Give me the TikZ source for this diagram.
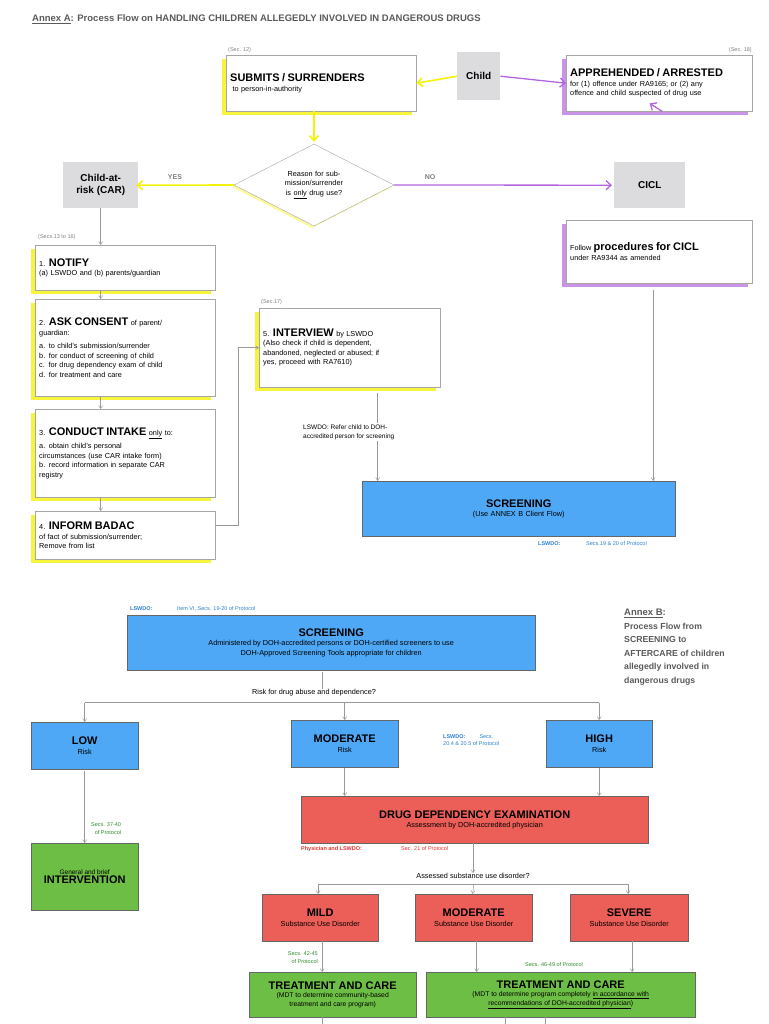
\documentclass[tikz,border=0pt]{standalone}
\usepackage{fontspec}
\setmainfont{Liberation Sans}
\usetikzlibrary{arrows.meta,shapes.geometric,shadows,calc}
\definecolor{gbox}{HTML}{DCDCDE}
\definecolor{ylw}{HTML}{F4F20A}
\definecolor{prp}{HTML}{B266DE}
\definecolor{blu}{HTML}{4FA8F6}
\definecolor{redb}{HTML}{EC5E58}
\definecolor{grn}{HTML}{6DBE45}
\definecolor{ttl}{HTML}{5A5A5A}
\definecolor{tblu}{HTML}{2C7FD2}
\definecolor{tgrn}{HTML}{2F8A2A}
\definecolor{tred}{HTML}{E0332E}
\newcommand\fz[2]{\fontsize{#1}{#2}\selectfont}
\newcommand\hd[1]{{\fz{11}{13}\bfseries #1}}
\begin{document}
\begin{tikzpicture}[x=1pt,y=-1pt,
  box/.style={draw=gray!70, fill=white, anchor=north west, inner sep=4pt,
    align=left, font=\fz{7.3}{9.5}},
  ysh/.style={drop shadow={shadow xshift=-4pt, shadow yshift=-4pt, fill=ylw, opacity=.8}},
  psh/.style={drop shadow={shadow xshift=-4pt, shadow yshift=-4pt, fill=prp, opacity=.7}},
  gray box/.style={fill=gbox, anchor=north west, align=center, font=\fz{10}{12}\bfseries},
  cbox/.style={draw=gray!80!black, anchor=north west, align=center, inner sep=2pt, font=\fz{7.3}{9.5}},
  ga/.style={draw=gray!80, -{Straight Barb[length=3pt,width=4pt]}, line width=.5pt},
  ya/.style={draw=ylw, -{Straight Barb[length=5pt,width=9pt]}, line width=1.6pt},
  pa/.style={draw=prp, -{Straight Barb[length=5pt,width=9pt]}, line width=1.3pt},
  gl/.style={draw=gray!80, line width=.5pt},
  note/.style={font=\fz{5.5}{7}, text=gray, inner sep=0pt},
  lbl/.style={font=\fz{6}{7.5}, inner sep=0pt, align=left}]
\useasboundingbox (0,0) rectangle (768,1024);

% ---------- Annex A ----------
\node[anchor=west, font=\fz{9.5}{11}\bfseries, text=ttl, inner sep=0pt] (title) at (32,19)
  {\underline{Annex A}: Process Flow on HANDLING CHILDREN ALLEGEDLY INVOLVED IN DANGEROUS DRUGS};

\node[box, ysh, text width=182, minimum height=56] (sub) at (226,55)
  {\hd{SUBMITS / SURRENDERS}\\ \ to person-in-authority};
\node[note, anchor=south west] (s12) at (228,53) {(Sec. 12)};
\node[gray box, minimum width=43, minimum height=48] (child) at (457,52) {Child};
\node[box, psh, text width=178, minimum height=56] (app) at (566,55)
  {\hd{APPREHENDED / ARRESTED}\\for (1) offence under RA9165; or (2) any\\offence and child suspected of drug use};
\node[note, anchor=south east] (s18) at (752,53) {(Sec. 18)};

\node[diamond, draw=gray!70, fill=white, aspect=2, minimum width=160, minimum height=82,
  inner sep=0pt, text width=80, align=center, font=\fz{7.3}{9.5},
  drop shadow={shadow xshift=-2pt, shadow yshift=-2pt, fill=ylw, opacity=.4}] (dia) at (314,185)
  {Reason for submission/surrender is \underline{only} drug use?};
\node[gray box, minimum width=75, minimum height=46] (car) at (63,162) {Child-at-\\risk (CAR)};
\node[gray box, minimum width=71, minimum height=46] (cicl) at (614,162) {CICL};
\node[lbl, font=\fz{7}{8}\bfseries, text=gray] (yes) at (175,177) {YES};
\node[lbl, font=\fz{7}{8}\bfseries, text=gray] (no) at (430,177) {NO};

\draw[ya] (child.west) -- (sub.east);
\draw[pa] (child.east) -- (app.west);
\draw[ya] (sub.south -| dia) -- ([yshift=2pt]dia.north);
\draw[ya] (dia.west) -- ([xshift=-2pt]car.east);
\draw[pa] (dia.east) -- ([xshift=-2pt]cicl.west);
\draw[pa] ([xshift=3pt]app.south) -- ([yshift=8pt]app.south -| cicl.north);

\node[box, psh, text width=178, minimum height=63] (proc) at (566,220)
  {Follow \hd{procedures for CICL}\\under RA9344 as amended};

% left column
\node[note, anchor=south west] (s13) at (38,240) {(Secs.13 to 16)};
\node[box, ysh, text width=172, minimum height=45] (notify) at (35,245)
  {1. \hd{NOTIFY}\\(a) LSWDO and (b) parents/guardian};
\node[box, ysh, text width=172, minimum height=97] (ask) at (35,299)
  {2. \hd{ASK CONSENT} of parent/\\guardian:\\[4pt]a. to child's submission/surrender\\b. for conduct of screening of child\\c. for drug dependency exam of child\\d. for treatment and care};
\node[box, ysh, text width=172, minimum height=88] (intake) at (35,409)
  {3. \hd{CONDUCT INTAKE} \underline{only} to:\\[4pt]a. obtain child's personal\\circumstances (use CAR intake form)\\b. record information in separate CAR\\registry};
\node[box, ysh, text width=172, minimum height=48] (inform) at (35,511)
  {4. \hd{INFORM BADAC}\\of fact of submission/surrender;\\Remove from list};
\node[note, anchor=south west] (s17) at (261,305) {(Sec.17)};
\node[box, ysh, text width=173, minimum height=79] (interview) at (259,308)
  {5. \hd{INTERVIEW} by LSWDO\\(Also check if child is dependent,\\abandoned, neglected or abused; if\\yes, proceed with RA7610)};

\draw[ga] (car.south) -- (car.south |- notify.north);
\draw[ga] (notify.south -| car) -- (ask.north -| car);
\draw[ga] (ask.south -| car) -- (intake.north -| car);
\draw[ga] (intake.south -| car) -- (inform.north -| car);
\draw[ga] ([yshift=10pt]inform.east) -- ++(23,0) |- (interview.west);

\node[box, draw=gray!80!black, fill=blu, text width=305, minimum height=55, align=center] (scrA) at (362,481)
  {\hd{SCREENING}\\(Use ANNEX B Client Flow)};
\draw[ga] ([xshift=28pt,yshift=-6pt]interview.south) -- ([xshift=28pt]interview.south |- scrA.north);
\node[lbl, fill=white, anchor=west, inner sep=1pt, font=\fz{6.5}{9}] (refer) at (302,432)
  {LSWDO: Refer child to DOH-\\accredited person for screening};
\draw[ga] ([xshift=-6pt,yshift=-7pt]proc.south) -- ([xshift=-6pt]proc.south |- scrA.north);
\node[lbl, text=tblu, font=\fz{5.5}{7}\bfseries, anchor=west] (lA) at (538,544) {LSWDO:};
\node[lbl, text=tblu, font=\fz{5.5}{7}, anchor=west] (lA2) at (586,544) {Secs.19 \& 20 of Protocol};

% ---------- Annex B ----------
\node[lbl, text=tblu, font=\fz{5.5}{7}\bfseries, anchor=west] (lB) at (130,609) {LSWDO:};
\node[lbl, text=tblu, font=\fz{5.5}{7}, anchor=west] (lB2) at (177,609) {Item VI, Secs. 19-20 of Protocol};
\node[cbox, fill=blu, minimum width=408, minimum height=55] (scrB) at (127,615)
  {\hd{SCREENING}\\Administered by DOH-accredited persons or DOH-certified screeners to use\\DOH-Approved Screening Tools appropriate for children};
\node[anchor=north west, inner sep=0pt, align=left, text=ttl, font=\fz{8.7}{13.5}\bfseries] (annexB) at (624,609)
  {{\fz{9.5}{13.5}\underline{Annex B}:}\\Process Flow from\\SCREENING to\\AFTERCARE of children\\allegedly involved in\\dangerous drugs};

\node[lbl, font=\fz{7.3}{9}] (risk) at (314,693) {Risk for drug abuse and dependence?};
\node[cbox, fill=blu, minimum width=107, minimum height=47] (low) at (31,722) {\hd{LOW}\\Risk};
\node[cbox, fill=blu, minimum width=107, minimum height=47] (mod) at (291,720) {\hd{MODERATE}\\Risk};
\node[cbox, fill=blu, minimum width=106, minimum height=47] (high) at (546,720) {\hd{HIGH}\\Risk};
\draw[gl] (scrB.south -| risk) ++(8,2) coordinate (c1) -- (c1 |- risk.north);
\coordinate (bar) at ($(risk.south)+(0,6)$);
\draw[gl] (bar -| low) -- (bar -| high);
\draw[ga] (bar -| low) -- (low.north);
\draw[ga] (bar -| mod) -- (mod.north);
\draw[ga] (bar -| high) -- (high.north);
\node[lbl, text=tblu, font=\fz{5.5}{7}, anchor=north west, align=left] (l20) at (443,734)
  {\textbf{LSWDO:}\hspace{14pt}Secs.\\20.4 \& 20.5 of Protocol};

\node[cbox, fill=grn, minimum width=107, minimum height=67] (interv) at (31,843)
  {\fz{6.5}{8}General and brief\\\hd{INTERVENTION}};
\draw[ga] ([yshift=-2pt]low.south) -- (interv.north);
\node[lbl, text=tgrn, font=\fz{5.5}{8}, align=right, anchor=north west] (s37) at (91,822) {Secs. 37-40\\of Protocol};

\node[cbox, fill=redb, minimum width=347, minimum height=47] (dde) at (301,796)
  {\hd{DRUG DEPENDENCY EXAMINATION}\\Assessment by DOH-accredited physician};
\draw[ga] ([yshift=-1pt]mod.south) -- (mod.south |- dde.north);
\draw[ga] ([yshift=-1pt]high.south) -- (high.south |- dde.north);
\node[lbl, text=tred, font=\fz{5.5}{7}\bfseries, anchor=west] (phy) at (301,849) {Physician and LSWDO:};
\node[lbl, text=tred, font=\fz{5.5}{7}, anchor=west] (phy2) at (401,849) {Sec. 21 of Protocol};

\node[lbl, font=\fz{7.3}{9}] (asd) at (473,876) {Assessed substance use disorder?};
\draw[ga] (dde.south -| asd) -- (asd.north);
\node[cbox, fill=redb, minimum width=116, minimum height=47] (mild) at (262,894) {\hd{MILD}\\Substance Use Disorder};
\node[cbox, fill=redb, minimum width=117, minimum height=47] (mod2) at (415,894) {\hd{MODERATE}\\Substance Use Disorder};
\node[cbox, fill=redb, minimum width=118, minimum height=47] (sev) at (570,894) {\hd{SEVERE}\\Substance Use Disorder};
\coordinate (bar2) at ($(asd.south)+(0,5)$);
\draw[gl] ([xshift=-2pt]bar2 -| mild) -- ([xshift=-1pt]bar2 -| sev);
\draw[ga] ([xshift=-2pt]bar2 -| mild) -- ([xshift=-2pt]mild.north);
\draw[ga] (bar2 -| mod2) -- ([xshift=-1pt]mod2.north);
\draw[ga] ([xshift=-1pt]bar2 -| sev) -- ([xshift=-1pt]sev.north);

\node[cbox, fill=grn, minimum width=167, minimum height=45, font=\fz{6.8}{8.5}] (tc1) at (249,972)
  {\hd{TREATMENT AND CARE}\\(MDT to determine community-based\\treatment and care program)};
\node[cbox, fill=grn, minimum width=269, minimum height=45, font=\fz{6.8}{8.5}] (tc2) at (426,972)
  {\hd{TREATMENT AND CARE}\\(MDT to determine program completely \underline{in accordance with}\\\underline{recommendations of DOH-accredited physician})};
\coordinate (m1) at ([xshift=2pt]mild.south);
\draw[ga] (m1) -- (m1 |- tc1.north);
\draw[ga] ([xshift=3pt]mod2.south) -- ([xshift=3pt]mod2.south |- tc2.north);
\draw[ga] ([xshift=3pt]sev.south) -- ([xshift=3pt]sev.south |- tc2.north);
\node[lbl, text=tgrn, font=\fz{5.5}{8}, align=right, anchor=north east] (s42) at (318,951) {Secs. 42-45\\of Protocol};
\node[lbl, text=tgrn, font=\fz{5.5}{7}, anchor=west] (s46) at (525,965) {Secs. 46-49 of Protocol};
\draw[gl] (m1 |- tc1.south) -- ++(0,8);
\draw[gl] ([xshift=-55pt]tc2.south) -- ++(0,8);
\draw[gl] ([xshift=-15pt]tc2.south) -- ++(0,8);
\end{tikzpicture}
\end{document}
